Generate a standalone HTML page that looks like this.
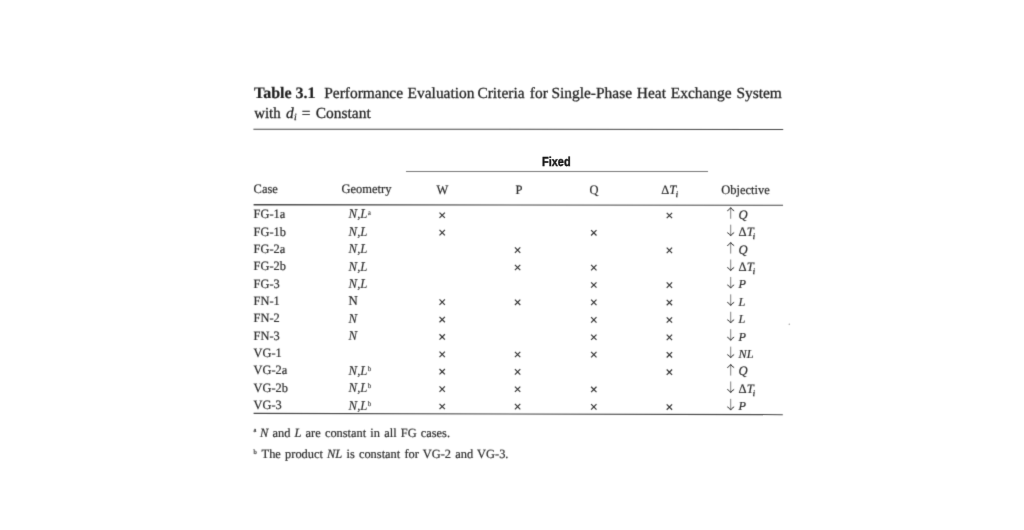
<!DOCTYPE html>
<html><head><meta charset="utf-8"><title>Table 3.1</title>
<style>
html,body{margin:0;padding:0;background:#fff;}
body{width:1024px;height:530px;overflow:hidden;}
svg{display:block;}
text{font-family:"Liberation Serif",serif;fill:#2b2b2b;stroke:#2b2b2b;stroke-width:0.2px;text-rendering:geometricPrecision;}
.i{font-style:italic;}
.g{font-style:italic;stroke-width:0.1px;}
.n{font-style:normal;}
.b{font-weight:bold;}
.sans{font-family:"Liberation Sans",sans-serif;}
.x{stroke:#2b2b2b;stroke-width:1.1;fill:none;stroke-linecap:butt;}
.ar{stroke:#2b2b2b;stroke-width:1.0;fill:none;stroke-linecap:round;stroke-linejoin:round;}
.sh{stroke:#555;stroke-width:0.75;fill:none;stroke-linecap:butt;}
</style></head><body>
<svg width="1024" height="530" viewBox="0 0 1024 530">
<defs><filter id="soft" x="0" y="0" width="100%" height="100%" filterUnits="userSpaceOnUse" color-interpolation-filters="sRGB"><feConvolveMatrix order="3" kernelMatrix="1 7 1 7 44 7 1 7 1" divisor="76" edgeMode="duplicate" preserveAlpha="true"/></filter></defs>
<g filter="url(#soft)">
<rect x="0" y="0" width="1024" height="530" fill="#fff"/>
<text y="97.8" font-size="16" class="b" style="fill:#1e1e1e;stroke:#1e1e1e"><tspan x="254">Table</tspan><tspan x="295.6">3.1</tspan></text>
<text y="97.8" font-size="15.45" style="fill:#222;stroke:#222;stroke-width:0.28px"><tspan x="324.2">Performance</tspan><tspan x="407.6">Evaluation</tspan><tspan x="477.4">Criteria</tspan><tspan x="529.8">for</tspan><tspan x="551.4">Single-Phase</tspan><tspan x="636.8">Heat</tspan><tspan x="670.8">Exchange</tspan><tspan x="736.4">System</tspan></text>
<text y="117.6" font-size="15.45" style="fill:#222;stroke:#222;stroke-width:0.28px"><tspan x="254.2" textLength="26.4" lengthAdjust="spacingAndGlyphs">with</tspan><tspan class="i" x="286">d</tspan><tspan class="i" font-size="9.5" dy="2.6" x="293.9">i</tspan><tspan dy="-2.6" x="301.8">=</tspan><tspan x="315.8">Constant</tspan></text>
<polygon points="253.40,128.72 783.20,129.01 783.20,129.91 253.40,129.77" fill="#444"/>
<polygon points="406.00,170.88 708.00,171.10 708.00,171.85 406.00,171.63" fill="#4a4a4a"/>
<text transform="translate(0 193.41) scale(1 1.03)" x="253.6" y="0" font-size="12.5">Case</text>
<text transform="translate(0 193.49) scale(1 1.03)" x="341.5" y="0" font-size="12.5">Geometry</text>
<text transform="translate(0 193.57) scale(1 1.03)" x="436.6" y="0" font-size="12.5">W</text>
<text transform="translate(0 193.64) scale(1 1.03)" x="515.5" y="0" font-size="12.5">P</text>
<text transform="translate(0 193.70) scale(1 1.03)" x="589.5" y="0" font-size="12.5">Q</text>
<text transform="translate(0 193.77) scale(1 1.03)" x="661.2" y="0" font-size="12.5">Δ<tspan class="i">T</tspan><tspan class="i" font-size="8.2" dy="2.7" dx="-0.4" style="stroke-width:0.35px">i</tspan></text>
<text transform="translate(0 193.82) scale(1 1.03)" x="721.2" y="0" font-size="12.5">Objective</text>
<polygon points="253.60,204.05 783.00,204.78 783.00,205.73 253.60,205.45" fill="#444"/>
<text transform="translate(0 218.17) scale(1 1.03)" x="253.6" y="0" font-size="12.4">FG-1a</text>
<text transform="translate(0 218.46) scale(1 1.03)" x="348.6" y="0" font-size="12.8" class="g">N,L<tspan class="n" font-size="7" dy="-3.6" dx="0.3">a</tspan></text>
<path class="x" d="M439.50 212.55L444.90 217.95M439.50 217.95L444.90 212.55"/>
<path class="x" d="M666.70 212.79L672.10 218.19M666.70 218.19L672.10 212.79"/>
<path class="sh" d="M730.70 218.76L730.70 207.76"/><path class="ar" d="M727.60 210.66Q730.00 209.30 730.70 207.56Q731.40 209.30 733.80 210.66"/>
<text transform="translate(0 218.67) scale(1 1.03)" x="738.6" y="0" font-size="12.6" class="i">Q</text>
<text transform="translate(0 235.53) scale(1 1.03)" x="253.6" y="0" font-size="12.4">FG-1b</text>
<text transform="translate(0 235.83) scale(1 1.03)" x="348.6" y="0" font-size="12.8" class="g">N,L</text>
<path class="x" d="M439.50 229.93L444.90 235.33M439.50 235.33L444.90 229.93"/>
<path class="x" d="M591.10 230.11L596.50 235.51M591.10 235.51L596.50 230.11"/>
<path class="sh" d="M730.70 224.68L730.70 235.68"/><path class="ar" d="M727.60 232.78Q730.00 234.14 730.70 235.88Q731.40 234.14 733.80 232.78"/>
<text transform="translate(0 236.10) scale(1 1.03)" x="738.6" y="0" font-size="12.6">Δ<tspan class="i">T</tspan><tspan class="i" font-size="8.2" dy="2.7" dx="-1.1" style="stroke-width:0.35px">i</tspan></text>
<text transform="translate(0 252.89) scale(1 1.03)" x="253.6" y="0" font-size="12.4">FG-2a</text>
<text transform="translate(0 253.21) scale(1 1.03)" x="348.6" y="0" font-size="12.8" class="g">N,L</text>
<path class="x" d="M514.90 247.42L520.30 252.82M514.90 252.82L520.30 247.42"/>
<path class="x" d="M666.70 247.62L672.10 253.02M666.70 253.02L672.10 247.62"/>
<path class="sh" d="M730.70 253.60L730.70 242.60"/><path class="ar" d="M727.60 245.50Q730.00 244.14 730.70 242.40Q731.40 244.14 733.80 245.50"/>
<text transform="translate(0 253.52) scale(1 1.03)" x="738.6" y="0" font-size="12.6" class="i">Q</text>
<text transform="translate(0 270.25) scale(1 1.03)" x="253.6" y="0" font-size="12.4">FG-2b</text>
<text transform="translate(0 270.58) scale(1 1.03)" x="348.6" y="0" font-size="12.8" class="g">N,L</text>
<path class="x" d="M514.90 264.81L520.30 270.21M514.90 270.21L520.30 264.81"/>
<path class="x" d="M591.10 264.92L596.50 270.32M591.10 270.32L596.50 264.92"/>
<path class="sh" d="M730.70 259.52L730.70 270.52"/><path class="ar" d="M727.60 267.62Q730.00 268.98 730.70 270.72Q731.40 268.98 733.80 267.62"/>
<text transform="translate(0 270.94) scale(1 1.03)" x="738.6" y="0" font-size="12.6">Δ<tspan class="i">T</tspan><tspan class="i" font-size="8.2" dy="2.7" dx="-1.1" style="stroke-width:0.35px">i</tspan></text>
<text transform="translate(0 287.61) scale(1 1.03)" x="253.6" y="0" font-size="12.4">FG-3</text>
<text transform="translate(0 287.95) scale(1 1.03)" x="348.6" y="0" font-size="12.8" class="g">N,L</text>
<path class="x" d="M591.10 282.32L596.50 287.72M591.10 287.72L596.50 282.32"/>
<path class="x" d="M666.70 282.44L672.10 287.84M666.70 287.84L672.10 282.44"/>
<path class="sh" d="M730.70 276.94L730.70 287.94"/><path class="ar" d="M727.60 285.04Q730.00 286.40 730.70 288.14Q731.40 286.40 733.80 285.04"/>
<text transform="translate(0 288.37) scale(1 1.0)" x="738.6" y="0" font-size="12.2" class="i">P</text>
<text transform="translate(0 304.97) scale(1 1.03)" x="253.6" y="0" font-size="12.4">FN-1</text>
<text transform="translate(0 305.33) scale(1 1.03)" x="348.6" y="0" font-size="12.8">N</text>
<path class="x" d="M439.50 299.47L444.90 304.87M439.50 304.87L444.90 299.47"/>
<path class="x" d="M514.90 299.60L520.30 305.00M514.90 305.00L520.30 299.60"/>
<path class="x" d="M591.10 299.73L596.50 305.13M591.10 305.13L596.50 299.73"/>
<path class="x" d="M666.70 299.86L672.10 305.26M666.70 305.26L672.10 299.86"/>
<path class="sh" d="M730.70 294.36L730.70 305.36"/><path class="ar" d="M727.60 302.46Q730.00 303.82 730.70 305.56Q731.40 303.82 733.80 302.46"/>
<text transform="translate(0 305.79) scale(1 1.0)" x="738.6" y="0" font-size="12.2" class="i">L</text>
<text transform="translate(0 322.34) scale(1 1.03)" x="253.6" y="0" font-size="12.4">FN-2</text>
<text transform="translate(0 322.70) scale(1 1.03)" x="348.6" y="0" font-size="12.8" class="g">N</text>
<path class="x" d="M439.50 316.85L444.90 322.25M439.50 322.25L444.90 316.85"/>
<path class="x" d="M591.10 317.13L596.50 322.53M591.10 322.53L596.50 317.13"/>
<path class="x" d="M666.70 317.27L672.10 322.67M666.70 322.67L672.10 317.27"/>
<path class="sh" d="M730.70 311.78L730.70 322.78"/><path class="ar" d="M727.60 319.88Q730.00 321.24 730.70 322.98Q731.40 321.24 733.80 319.88"/>
<text transform="translate(0 323.21) scale(1 1.0)" x="738.6" y="0" font-size="12.2" class="i">L</text>
<text transform="translate(0 339.70) scale(1 1.03)" x="253.6" y="0" font-size="12.4">FN-3</text>
<text transform="translate(0 340.07) scale(1 1.03)" x="348.6" y="0" font-size="12.8" class="g">N</text>
<path class="x" d="M439.50 334.24L444.90 339.64M439.50 339.64L444.90 334.24"/>
<path class="x" d="M591.10 334.54L596.50 339.94M591.10 339.94L596.50 334.54"/>
<path class="x" d="M666.70 334.68L672.10 340.08M666.70 340.08L672.10 334.68"/>
<path class="sh" d="M730.70 329.20L730.70 340.20"/><path class="ar" d="M727.60 337.30Q730.00 338.66 730.70 340.40Q731.40 338.66 733.80 337.30"/>
<text transform="translate(0 340.63) scale(1 1.0)" x="738.6" y="0" font-size="12.2" class="i">P</text>
<text transform="translate(0 357.06) scale(1 1.03)" x="253.6" y="0" font-size="12.4">VG-1</text>
<path class="x" d="M439.50 351.62L444.90 357.02M439.50 357.02L444.90 351.62"/>
<path class="x" d="M514.90 351.78L520.30 357.18M514.90 357.18L520.30 351.78"/>
<path class="x" d="M591.10 351.94L596.50 357.34M591.10 357.34L596.50 351.94"/>
<path class="x" d="M666.70 352.10L672.10 357.50M666.70 357.50L672.10 352.10"/>
<path class="sh" d="M730.70 346.63L730.70 357.63"/><path class="ar" d="M727.60 354.73Q730.00 356.09 730.70 357.83Q731.40 356.09 733.80 354.73"/>
<text transform="translate(0 358.06) scale(1 1.0)" x="738.6" y="0" font-size="12.2" class="i">NL</text>
<text transform="translate(0 374.42) scale(1 1.03)" x="253.6" y="0" font-size="12.4">VG-2a</text>
<text transform="translate(0 374.82) scale(1 1.03)" x="348.6" y="0" font-size="12.8" class="g">N,L<tspan class="n" font-size="7" dy="-3.6" dx="0.3">b</tspan></text>
<path class="x" d="M439.50 369.01L444.90 374.41M439.50 374.41L444.90 369.01"/>
<path class="x" d="M514.90 369.17L520.30 374.57M514.90 374.57L520.30 369.17"/>
<path class="x" d="M666.70 369.51L672.10 374.91M666.70 374.91L672.10 369.51"/>
<path class="sh" d="M730.70 375.55L730.70 364.55"/><path class="ar" d="M727.60 367.45Q730.00 366.09 730.70 364.35Q731.40 366.09 733.80 367.45"/>
<text transform="translate(0 375.48) scale(1 1.03)" x="738.6" y="0" font-size="12.6" class="i">Q</text>
<text transform="translate(0 391.78) scale(1 1.03)" x="253.6" y="0" font-size="12.4">VG-2b</text>
<text transform="translate(0 392.20) scale(1 1.03)" x="348.6" y="0" font-size="12.8" class="g">N,L<tspan class="n" font-size="7" dy="-3.6" dx="0.3">b</tspan></text>
<path class="x" d="M439.50 386.39L444.90 391.79M439.50 391.79L444.90 386.39"/>
<path class="x" d="M514.90 386.57L520.30 391.97M514.90 391.97L520.30 386.57"/>
<path class="x" d="M591.10 386.75L596.50 392.15M591.10 392.15L596.50 386.75"/>
<path class="sh" d="M730.70 381.47L730.70 392.47"/><path class="ar" d="M727.60 389.57Q730.00 390.93 730.70 392.67Q731.40 390.93 733.80 389.57"/>
<text transform="translate(0 392.90) scale(1 1.03)" x="738.6" y="0" font-size="12.6">Δ<tspan class="i">T</tspan><tspan class="i" font-size="8.2" dy="2.7" dx="-1.1" style="stroke-width:0.35px">i</tspan></text>
<text transform="translate(0 409.15) scale(1 1.03)" x="253.6" y="0" font-size="12.4">VG-3</text>
<text transform="translate(0 409.57) scale(1 1.03)" x="348.6" y="0" font-size="12.8" class="g">N,L<tspan class="n" font-size="7" dy="-3.6" dx="0.3">b</tspan></text>
<path class="x" d="M439.50 403.78L444.90 409.18M439.50 409.18L444.90 403.78"/>
<path class="x" d="M514.90 403.96L520.30 409.36M514.90 409.36L520.30 403.96"/>
<path class="x" d="M591.10 404.15L596.50 409.55M591.10 409.55L596.50 404.15"/>
<path class="x" d="M666.70 404.34L672.10 409.74M666.70 409.74L672.10 404.34"/>
<path class="sh" d="M730.70 398.89L730.70 409.89"/><path class="ar" d="M727.60 406.99Q730.00 408.35 730.70 410.09Q731.40 408.35 733.80 406.99"/>
<text transform="translate(0 410.33) scale(1 1.0)" x="738.6" y="0" font-size="12.2" class="i">P</text>
<polygon points="253.60,412.72 782.80,414.17 782.80,415.17 253.60,413.97" fill="#444"/>
<text transform="translate(0 436.80) scale(1 1.02)" x="253.5" y="0" font-size="12.4" word-spacing="1.08"><tspan font-size="6.5" dy="-4.4">a</tspan><tspan dy="4.4" x="260.0" class="i">N</tspan> and <tspan class="i">L</tspan> are constant in all FG cases.</text>
<text transform="translate(0 457.90) scale(1 1.02)" x="253.5" y="0" font-size="12.4" word-spacing="1.1"><tspan font-size="6.5" dy="-4.2">b</tspan><tspan dy="4.2" x="261.6">The product </tspan><tspan class="i">NL</tspan> is constant for VG-2 and VG-3.</text>
<circle cx="789.3" cy="324.3" r="0.7" fill="#999"/>
</g>
<defs><filter id="crisp" x="0" y="0" width="100%" height="100%" filterUnits="userSpaceOnUse" color-interpolation-filters="sRGB"><feConvolveMatrix order="3" kernelMatrix="0 2 0 2 40 2 0 2 0" divisor="48" edgeMode="duplicate" preserveAlpha="false"/></filter></defs>
<g filter="url(#crisp)"><text class="sans b" x="542.0" y="165.55" font-size="13" textLength="28.6" lengthAdjust="spacingAndGlyphs" style="fill:#111;stroke:#111;stroke-width:0.4px">Fixed</text></g>
</svg>
</body></html>
